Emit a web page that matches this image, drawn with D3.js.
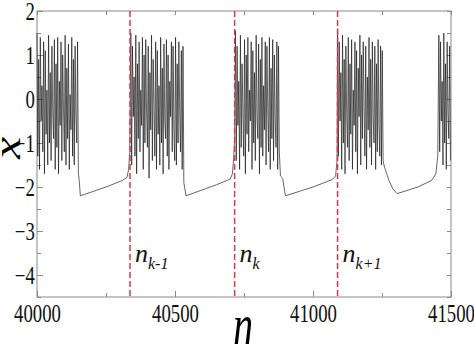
<!DOCTYPE html>
<html><head><meta charset="utf-8">
<script src="https://cdn.jsdelivr.net/npm/d3@7"></script>
<style>html,body{margin:0;padding:0;background:#fff;}svg{display:block;}</style>
</head><body>
<svg id="c" width="474" height="344"></svg>
<script>
// ---- data ----
const xTicks = [40000, 40500, 41000, 41500];
const xMinorTicks = [40250, 40750, 41250];
const yTicks = [-4, -3, -2, -1, 0, 1, 2];
const yMinorTicks = [-4.5, -3.5, -2.5, -1.5, -0.5, 0.5, 1.5];
const markers = [40337, 40716, 41089];
const markerLabels = ["k-1", "k", "k+1"];
const burstStep = 3;
const burstStarts = [40000, 40340, 40716, 41089, 41456];
const burstA = [1.5,-1.3,0.9,-1.6,1.4,-0.5,0.3,-1.2,1.3,-1.7,1.1,-0.8,0.2,-1.5,1.45,-1.0,0.6,-1.4,1.2,-0.3,-0.9,1.35,-1.6,0.8,-1.1,1.4,-1.7,0.4,-0.6,1.3,-1.4,1.0,-0.2,-1.2,1.45,-1.5,0.7,-0.9,1.25,-1.6,0.1,-0.7,1.4,-1.3,0.9,-1.5,1.2,-0.4,-1.0,1.3,-1.7];
const burstB = [1.5,-1.5,1.2,-0.4,0.5,-1.3,1.45,-1.7,0.8,-0.9,1.3,-1.2,0.2,-0.6,1.4,-1.6,1.0,-1.0,1.35,-0.3,-1.1,1.2,-1.8,0.6,-0.7,1.45,-1.4,0.9,-0.2,-1.3,1.3,-1.6,1.1,-0.8,0.3,-1.5,1.4,-1.0,0.7,-1.7,1.25,-0.5,-0.9,1.35,-1.3,1.0,-1.6,0.4,-0.4,1.3,-1.2,1.2,-0.7,-1.4,1.4,-1.5,0.8,-1.0,1.3,-0.3,-1.2,1.1,-1.6,1.2];
const burstC = [-0.9,1.55,-1.4,1.2,-0.6,0.4,-1.6,1.45,-1.1,0.8,-0.3,-1.3,1.35,-1.7,1.0,-0.8,1.4,-1.2,0.2,-0.5,1.3,-1.6,1.1,-1.0,0.6,-1.4,1.45,-0.4,-0.9,1.25,-1.7,0.9,-1.1,1.4,-1.3,0.3,-0.7,1.3,-1.5,1.2,-0.2,-1.2,1.4,-1.6,0.7,-0.9,1.35,-1.4,1.0,-0.5,-1.1,1.3,-1.6,1.2,-1.2];
const burstD = [1.6,-1.3,1.3,-0.5,0.6,-1.6,1.45,-1.0,0.9,-1.7,1.2,-0.3,-1.1,1.4,-1.4,0.8,-0.8,1.35,-1.6,0.2,-0.6,1.3,-1.2,1.1,-1.7,0.7,-0.4,1.45,-1.5,1.0,-0.9,1.3,-0.2,-1.3,1.2,-1.6,0.5,-0.7,1.4,-1.1,0.9,-1.5,1.3,-0.4,-1.0,1.2,-1.6,0.8,-1.2,1.35,-0.6,-1.3,1.2,-1.5,1.1,-1.4];
const burstE = [1.45,-1.2,1.3,-0.5,0.4,-1.5,1.5,-1.0,0.8,-1.6,1.3,-0.3,-0.9,1.2,-1.4];
const quietA = [[40153,-1.85],[40157,-2.2],[40250,-2.0],[40310,-1.85],[40326,-1.78],[40332,-1.6],[40336,-1.2]];
const quietB = [[40532,-1.9],[40540,-2.2],[40650,-1.95],[40700,-1.82],[40708,-1.7],[40713,-1.3]];
const quietC = [[40882,-1.75],[40890,-1.8],[40900,-2.2],[41000,-2.0],[41070,-1.83],[41082,-1.75],[41087,-1.4]];
const quietD = [[41257,-1.5],[41262,-1.6],[41275,-1.85],[41290,-2.05],[41305,-2.15],[41380,-2.0],[41430,-1.85],[41445,-1.7],[41452,-1.3]];

// ---- build series ----
const bursts = [burstA, burstB, burstC, burstD, burstE];
const quiets = [quietA, quietB, quietC, quietD, []];
const series = [];
bursts.forEach((b, k) => {
  b.forEach((v, i) => series.push([burstStarts[k] + i * burstStep, v]));
  quiets[k].forEach(p => series.push(p));
});

// ---- chart ----
const svg = d3.select("#c");
const L = 37, R = 451, T = 11, B = 297;
const x = d3.scaleLinear().domain([40000, 41500]).range([L, R]);
const y = d3.scaleLinear().domain([-4.5, 2]).range([B, T]);
const serif = '"Liberation Serif", "Tinos", "Times New Roman", serif';
const sx = 0.75;

// frame
svg.append("rect").attr("x", L).attr("y", T).attr("width", R - L).attr("height", B - T)
  .attr("fill", "none").attr("stroke", "#8a8a8a").attr("stroke-width", 1);

function styleAxis(g) {
  g.select(".domain").remove();
  g.attr("font-family", null);
  g.selectAll("line").attr("stroke", "#8a8a8a");
}
// bottom major
svg.append("g").attr("transform", `translate(0,${B})`)
  .call(d3.axisBottom(x).tickValues(xTicks).tickSize(-6).tickFormat(d3.format("d")))
  .call(styleAxis)
  .call(g => g.selectAll("text").style("font-family", serif).attr("y", 25).attr("dy", 0)
    .attr("transform", `scale(${sx},1)`)
    .attr("font-size", 25).attr("fill", "#111"));
svg.append("g").attr("transform", `translate(0,${B})`)
  .call(d3.axisBottom(x).tickValues(xMinorTicks).tickSize(-4).tickFormat(""))
  .call(styleAxis);
// top
svg.append("g").attr("transform", `translate(0,${T})`)
  .call(d3.axisTop(x).tickValues(xTicks.concat(xMinorTicks)).tickSize(-4).tickFormat(""))
  .call(styleAxis);
// left
svg.append("g").attr("transform", `translate(${L},0)`)
  .call(d3.axisLeft(y).tickValues(yTicks).tickSize(-6).tickPadding(3).tickFormat(d3.format("d")))
  .call(styleAxis)
  .call(g => g.selectAll("text").style("font-family", serif).attr("x", -3).attr("dy", "0.34em")
    .attr("transform", `scale(${sx},1)`)
    .attr("font-size", 25).attr("fill", "#111"));
svg.append("g").attr("transform", `translate(${L},0)`)
  .call(d3.axisLeft(y).tickValues(yMinorTicks).tickSize(-4).tickFormat(""))
  .call(styleAxis);
// right
svg.append("g").attr("transform", `translate(${R},0)`)
  .call(d3.axisRight(y).tickValues(yTicks.concat(yMinorTicks)).tickSize(-4).tickFormat(""))
  .call(styleAxis);

// series line
svg.append("path").datum(series)
  .attr("fill", "none").attr("stroke", "#111").attr("stroke-width", 0.65)
  .attr("stroke-linejoin", "round")
  .attr("d", d3.line().x(d => x(d[0])).y(d => y(d[1])));

// markers
svg.selectAll(".mk").data(markers).join("line").attr("class", "mk")
  .attr("x1", d => x(d)).attr("x2", d => x(d)).attr("y1", T).attr("y2", B)
  .attr("stroke", "#d23c4c").attr("stroke-width", 1.5).attr("stroke-dasharray", "6,3");

const lab = svg.selectAll(".ml").data(markers).join("text").attr("class", "ml")
  .style("font-family", serif)
  .attr("x", d => x(d) + 5).attr("y", 262)
  .attr("font-style", "italic").attr("fill", "#111");
lab.append("tspan").attr("font-size", 26).text("n");
lab.append("tspan").attr("font-size", 16).attr("dy", 7).text((d, i) => markerLabels[i]);

// axis titles
svg.append("text").style("font-family", serif)
  .attr("transform", `translate(${(L + R) / 2 - 1},346) scale(0.65,1)`)
  .attr("text-anchor", "middle").attr("font-style", "italic")
  .attr("font-size", 62).attr("fill", "#000").text("n");
svg.append("text").style("font-family", serif)
  .attr("transform", `translate(20,148) rotate(-90) scale(1,0.75)`)
  .attr("text-anchor", "middle").attr("font-style", "italic")
  .attr("font-size", 50).attr("fill", "#000").text("x");
</script>
</body></html>
